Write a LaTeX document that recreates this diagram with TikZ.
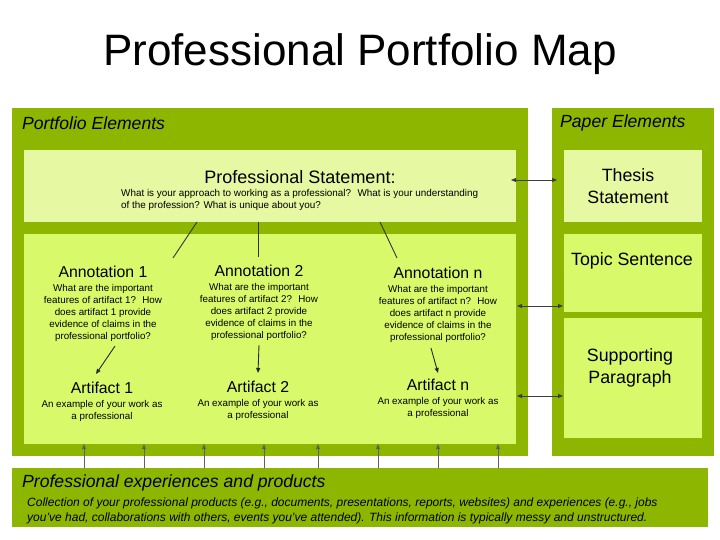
\documentclass[tikz,border=0pt]{standalone}
\usepackage{fontspec}
\setmainfont{Liberation Sans}
\usetikzlibrary{arrows.meta, calc, positioning}
\definecolor{olive}{RGB}{140,182,0}
\definecolor{palegreen}{RGB}{230,248,162}
\definecolor{limegreen}{RGB}{216,250,106}
\definecolor{linkgray}{RGB}{60,60,60}

\begin{document}
\begin{tikzpicture}[x=1pt, y=-1pt,
  panel/.style={fill=olive, inner sep=0pt, outer sep=0pt},
  card/.style={inner sep=0pt, outer sep=0pt},
  head/.style={inner sep=0pt, font=\fontsize{15.8}{18}\selectfont},
  desc/.style={inner sep=0pt, align=center, font=\fontsize{9.8}{12}\selectfont},
  sidehead/.style={inner sep=0pt, align=center, font=\fontsize{17.8}{21.5}\selectfont},
  tag/.style={inner sep=0pt, anchor=west, font=\fontsize{17.6}{20}\selectfont\itshape},
  link/.style={draw=linkgray, line width=0.9pt},
  tip/.style={-{Triangle[length=5pt, width=4pt]}},
  both/.style={{Triangle[length=5pt, width=4pt]}-{Triangle[length=5pt, width=4pt]}}]
\useasboundingbox (0,0) rectangle (720,540);
\fill[white] (0,0) rectangle (720,540);
% title
\node[inner sep=0pt, font=\fontsize{44}{48}\selectfont] (title) at (360,54) {Professional Portfolio Map};
% panels
\node[panel, minimum width=516pt, minimum height=348pt] (portfolio) at (270,282) {};
\node[panel, minimum width=162pt, minimum height=348pt] (paper) at (633,282) {};
\node[panel, minimum width=696pt, minimum height=59pt] (experience) at (360,497.5) {};
\node[card, fill=palegreen, minimum width=492pt, minimum height=72pt] (statementbox) at (270,186) {};
\node[card, fill=limegreen, minimum width=492pt, minimum height=210pt] (workbox) at (270,339) {};
\node[card, fill=palegreen, minimum width=138pt, minimum height=72pt] (thesisbox) at (633,186) {};
\node[card, fill=limegreen, minimum width=138pt, minimum height=78pt] (topicbox) at (633,273) {};
\node[card, fill=limegreen, minimum width=138pt, minimum height=120pt] (supportbox) at (633,378) {};
% panel labels
\node[tag] (portfoliotag) at (22,123) {Portfolio Elements};
\node[tag] (papertag) at (560,123) {Paper Elements};
\node[tag] (experiencetag) at (22,483) {Professional experiences and products};
\node[inner sep=0pt, anchor=north west, align=left, font=\fontsize{12}{15}\selectfont\itshape] (experiencedesc) at (27,498)
  {Collection of your professional products (e.g., documents, presentations, reports, websites) and experiences (e.g., jobs\\
   you've had, collaborations with others, events you've attended). This information is typically messy and unstructured.};
% statement
\node[inner sep=0pt, font=\fontsize{18}{20}\selectfont] (statement) at (300,177) {Professional Statement:};
\node[inner sep=0pt, anchor=north west, align=left, font=\fontsize{9.9}{12}\selectfont] (statementdesc) at (121,189)
  {What is your approach to working as a professional?~ What is your understanding\\
   of the profession? What is unique about you?};
% annotations
\node[head] (ann1) at (103,272) {Annotation 1};
\node[desc, below=6.5pt of ann1] (ann1d) {What are the important\\features of artifact 1?~ How\\does artifact 1 provide\\evidence of claims in the\\professional portfolio?};
\node[head] (ann2) at (259,271) {Annotation 2};
\node[desc, below=6.5pt of ann2] (ann2d) {What are the important\\features of artifact 2?~ How\\does artifact 2 provide\\evidence of claims in the\\professional portfolio?};
\node[head] (annn) at (438,273) {Annotation n};
\node[desc, below=6.5pt of annn] (annnd) {What are the important\\features of artifact n?~ How\\does artifact n provide\\evidence of claims in the\\professional portfolio?};
% artifacts
\node[head] (art1) at (102,388) {Artifact 1};
\node[desc, below=6.5pt of art1] (art1d) {An example of your work as\\a professional};
\node[head] (art2) at (258,387) {Artifact 2};
\node[desc, below=6.5pt of art2] (art2d) {An example of your work as\\a professional};
\node[head] (artn) at (438,385) {Artifact n};
\node[desc, below=6.5pt of artn] (artnd) {An example of your work as\\a professional};
% paper elements
\node[sidehead] (thesis) at (628,186) {Thesis\\Statement};
\node[sidehead] (topic) at (632,261) {Topic Sentence};
\node[sidehead] (support) at (630,368) {Supporting\\Paragraph};
% statement to annotations
\coordinate (s1) at (197,222); \coordinate (a1) at (173,258);
\coordinate (s2) at (258,222); \coordinate (a2) at (258,257);
\coordinate (sn) at (380,222); \coordinate (an) at (397,258);
\draw[link, draw=black!80] (s1) -- (a1);
\draw[link, draw=black!80] (s2) -- (a2);
\draw[link, draw=black!80] (sn) -- (an);
% annotations to artifacts
\draw[link, tip, draw=black!85] ($(ann1d.south)+(12,4)$) -- ($(art1.north)+(-6,-8)$);
\draw[link, tip, draw=black!85] ($(ann2d.south)+(0,4)$) -- ($(art2.north)+(0,-8)$);
\draw[link, tip, draw=black!85] ($(annnd.south)+(-7,5)$) -- ($(artn.north)+(0,-6)$);
% portfolio to paper
\draw[link, both] (511,180) -- (557,180);
\draw[link, both] (517,306) -- (563,306);
\draw[link, both] (517,396) -- (563,396);
% experiences feed the portfolio
\foreach \px in {84,144,204,264,318,378,438,498}
  \draw[link, tip, draw=gray!75!black] (\px,468) -- (\px,444);
\end{tikzpicture}
\end{document}
